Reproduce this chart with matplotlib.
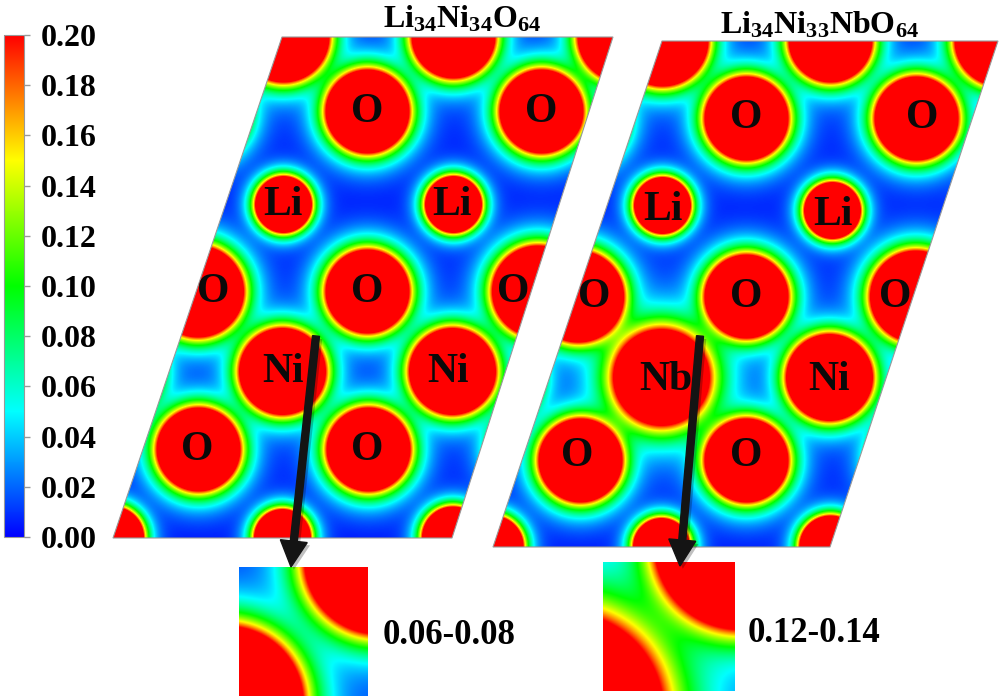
import numpy as np
import matplotlib
matplotlib.use("Agg")
import matplotlib.pyplot as plt
import matplotlib.patheffects as pe
from matplotlib.colors import LinearSegmentedColormap, Normalize
from matplotlib.cm import ScalarMappable
from matplotlib.patches import Polygon

plt.rcParams['font.family'] = ['Liberation Serif', 'DejaVu Serif']
plt.rcParams['mathtext.fontset'] = 'custom'
plt.rcParams['mathtext.bf'] = 'Liberation Serif:bold'
plt.rcParams['mathtext.rm'] = 'Liberation Serif:bold'

# colour scale
scale_ticks = [0.00, 0.02, 0.04, 0.06, 0.08, 0.10, 0.12, 0.14, 0.16, 0.18, 0.20]
scale_colors = ["#0000ff", "#00ffff", "#00ff00", "#ffff00", "#ff0000"]

# atoms of the two slabs, x and y on the reference pixel grid
left_names = ["O", "O", "O", "O", "O", "Li", "Li", "O", "O", "O", "Ni", "Ni", "O", "O", "Li", "Li", "Li"]
left_x = [283, 453, 623, 367, 541, 283, 453, 198, 367, 537, 282, 452, 198, 368, 113, 282, 452]
left_y = [37, 37, 37, 112, 112, 205, 205, 292, 292, 292, 372, 372, 450, 450, 538, 538, 538]
left_corners = [(282, 37), (613, 37), (452, 538), (113, 538)]

right_names = ["O", "O", "O", "O", "O", "Li", "Li", "O", "O", "O", "Nb", "Ni", "O", "O", "Li", "Li", "Li"]
right_x = [662, 830, 1000, 746, 916, 662, 832, 577, 746, 916, 661, 829, 580, 746, 493, 661, 829]
right_y = [41, 41, 41, 119, 119, 206, 211, 297, 297, 297, 378, 378, 461, 461, 547, 547, 547]
right_corners = [(662, 41), (998, 41), (830, 547), (493, 547)]

# red core radius and fall-off length per element
core_radius = {"O": 41.5, "Li": 28, "Ni": 43, "Nb": 48}
fall_off = {"O": 11.0, "Li": 7.0, "Ni": 11.0, "Nb": 17.0}

left_labels = [("O", 367, 112), ("O", 541, 112), ("Li", 283, 205), ("Li", 452, 205),
               ("O", 213, 292), ("O", 367, 292), ("O", 513, 292),
               ("Ni", 283, 372), ("Ni", 448, 372), ("O", 197, 450), ("O", 367, 450)]
right_labels = [("O", 746, 118), ("O", 922, 118), ("Li", 663, 210), ("Li", 833, 215),
                ("O", 594, 297), ("O", 746, 297), ("O", 895, 297),
                ("Nb", 666, 380), ("Ni", 829, 380), ("O", 577, 456), ("O", 746, 456)]


def density(xx, yy, names, xs, ys, period):
    total = np.zeros(xx.shape)
    for name, x0, y0 in zip(names, xs, ys):
        for shift in (-period, 0, period):
            dist = np.hypot(xx - x0 - shift, yy - y0)
            d = dist - core_radius[name]
            k = fall_off[name]
            total += (0.2 * (0.92 * np.exp(-d / k) + 0.08 * np.exp(-d / (3 * k)))) ** 2
    return np.sqrt(total)


cmap = LinearSegmentedColormap.from_list("charge", scale_colors, N=512)
norm = Normalize(0, 0.2)

fig = plt.figure(figsize=(10, 7), dpi=100)
ax = fig.add_axes([0, 0, 1, 1])


def draw_slab(names, xs, ys, corners, period):
    xx, yy = np.meshgrid(np.arange(90, 1000, 1.0), np.arange(30, 556, 1.0))
    rho = density(xx, yy, names, xs, ys, period)
    im = ax.imshow(rho, cmap=cmap, norm=norm, extent=(89.5, 999.5, 555.5, 29.5),
                   interpolation="bilinear", aspect="auto", zorder=1)
    cell = Polygon(corners, closed=True, facecolor="none", edgecolor="#999999", linewidth=0.8, zorder=2)
    ax.add_patch(cell)
    im.set_clip_path(cell)


def draw_inset(names, xs, ys, period, window, box):
    x0, x1, y0, y1 = window
    xx, yy = np.meshgrid(np.linspace(x0, x1, 200), np.linspace(y0, y1, 200))
    rho = density(xx, yy, names, xs, ys, period)
    ax.imshow(rho, cmap=cmap, norm=norm, extent=box, interpolation="bilinear", aspect="auto", zorder=1)


draw_slab(left_names, left_x, left_y, left_corners, 340)
draw_slab(right_names, right_x, right_y, right_corners, 338)

draw_inset(left_names, left_x, left_y, 340, (289, 361, 296, 368), (239, 368, 696, 567))
draw_inset(right_names, right_x, right_y, 338, (680, 743, 306, 368), (603, 735, 691, 562))

for label, x, y in left_labels + right_labels:
    ax.text(x, y, label, fontsize=30, fontweight="bold", ha="center", va="center", color="#0a0a0a", zorder=3)

ax.text(462, 27, r"$\mathbf{Li_{34}Ni_{34}O_{64}}$", fontsize=23, ha="center", va="baseline", zorder=3)
ax.text(820, 33, r"$\mathbf{Li_{34}Ni_{33}NbO_{64}}$", fontsize=23, ha="center", va="baseline", zorder=3)
ax.text(383, 636, "0.06-0.08", fontsize=25, fontweight="bold", ha="left", va="center", zorder=3)
ax.text(748, 633, "0.12-0.14", fontsize=25, fontweight="bold", ha="left", va="center", zorder=3)

shadow = [pe.SimplePatchShadow(offset=(2, -2), alpha=0.25), pe.Normal()]
for tail, tip in [((316, 336), (291, 567)), ((700, 336), (680, 566))]:
    ax.arrow(tail[0], tail[1], tip[0] - tail[0], tip[1] - tail[1], width=7, head_width=27, head_length=26,
             length_includes_head=True, color="#141414", zorder=4, path_effects=shadow)

ax.set_xlim(0, 1000)
ax.set_ylim(700, 0)
ax.axis("off")

cax = fig.add_axes([0.004, 1 - 537 / 700, 0.020, 502 / 700])
bar = fig.colorbar(ScalarMappable(norm=norm, cmap=cmap), cax=cax, ticks=scale_ticks)
bar.ax.set_yticklabels([f"{t:.2f}" for t in scale_ticks], fontsize=23, fontweight="bold")
bar.ax.tick_params(length=4, width=1, color="#999999", pad=8)
bar.outline.set_edgecolor("#999999")

fig.savefig("out.png", dpi=100)
